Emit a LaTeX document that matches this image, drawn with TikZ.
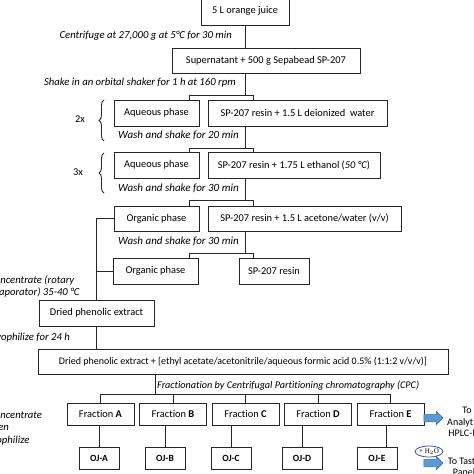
\documentclass[tikz,border=0pt]{standalone}
\usepackage{fontspec}
\setmainfont{Carlito}[Ligatures=NoCommon]
\newfontfamily\chemfont{Liberation Serif}
\usepackage{xcolor}
\usepackage{tikz}
\usetikzlibrary{shapes,arrows,positioning,calc,decorations.pathreplacing}
\definecolor{arrowblue}{RGB}{91,155,213}
\definecolor{arrowedge}{RGB}{65,113,156}
\definecolor{ellipseedge}{RGB}{47,85,151}
\tikzset{
    procbox/.style={
        rectangle,
        draw=black!85,
        line width=1pt,
        minimum height=25pt,
        inner sep=2pt,
        text centered,
        font=\fontsize{10.4}{12}\selectfont
    },
    fracbox/.style={
        procbox,
        minimum width=67pt,
        minimum height=22pt
    },
    ojbox/.style={
        procbox,
        minimum width=40pt,
        minimum height=22pt,
        font=\fontsize{9.5}{11}\selectfont\bfseries
    },
    note/.style={
        font=\fontsize{10.7}{12.5}\selectfont\itshape,
        inner sep=1pt
    },
    washnote/.style={
        note,
        anchor=west,
        font=\fontsize{11}{13}\selectfont\itshape
    },
    link/.style={
        draw=black!85,
        line width=0.9pt
    },
    fatarrow/.style={
        single arrow,
        draw=arrowedge,
        fill=arrowblue,
        line width=0.6pt,
        minimum height=19pt,
        minimum width=13pt,
        single arrow head extend=2.5pt,
        inner sep=3pt
    }
}

\begin{document}
\begin{tikzpicture}[x=1pt,y=-1pt,node distance=8pt]
\useasboundingbox (0,0) rectangle (474,474);
\clip (0,0) rectangle (474,474);

% juice and resin
\node[procbox, minimum width=88pt, minimum height=28pt] (juice) at (245,11) {5 L orange juice};
\node[procbox, minimum width=188pt] (super) at (266,60.5) {Supernatant + 500 g Sepabead SP-207};

% washing steps
\node[procbox, minimum width=85pt, minimum height=26pt] (aq1) at (156.5,113) {Aqueous phase};
\node[procbox, minimum width=179pt, minimum height=26pt, right=of aq1] (sp1) {SP-207 resin + 1.5 L deionized\ \ water};
\node[procbox, minimum width=85pt, minimum height=26pt] (aq2) at (156.5,165) {Aqueous phase};
\node[procbox, minimum width=172pt, minimum height=26pt, right=of aq2] (sp2) {SP-207 resin + 1.75 L ethanol (\textit{50 °C})};
\node[procbox, minimum width=85pt] (org1) at (156.5,218.5) {Organic phase};
\node[procbox, minimum width=193pt, right=of org1] (sp3) {SP-207 resin + 1.5 L acetone/water (v/v)};
\node[procbox, minimum width=85pt, minimum height=26pt] (org2) at (155.5,271) {Organic phase};
\node[procbox, minimum width=70pt, minimum height=26pt, right=40pt of org2] (resin) {SP-207 resin};

% extract
\node[procbox, minimum width=115pt, minimum height=26pt] (dried) at (96.5,313) {Dried phenolic extract};
\node[procbox, minimum width=410pt, font=\fontsize{10}{12}\selectfont] (mix) at (243,361.5) {Dried phenolic extract + [ethyl acetate/acetonitrile/aqueous formic acid 0.5\% (1:1:2 v/v/v)]};

% fractions
\node[fracbox] (frA) at (100.5,414) {Fraction \textbf{A}};
\node[fracbox, right=4.5pt of frA] (frB) {Fraction \textbf{B}};
\node[fracbox, right=4.5pt of frB] (frC) {Fraction \textbf{C}};
\node[fracbox, right=4.5pt of frC] (frD) {Fraction \textbf{D}};
\node[fracbox, right=4.5pt of frD] (frE) {Fraction \textbf{E}};
\node[ojbox] (ojA) at (99,458) {OJ-A};
\node[ojbox] (ojB) at (165,458) {OJ-B};
\node[ojbox] (ojC) at (231,458) {OJ-C};
\node[ojbox] (ojD) at (302,458) {OJ-D};
\node[ojbox] (ojE) at (377,458) {OJ-E};

% step labels
\node[note, anchor=east] (l1) at (233,36) {Centrifuge at 27,000 g at 5°C for 30 min};
\node[note, anchor=east] (l2) at (237,83) {Shake in an orbital shaker for 1 h at 160 rpm};
\node[washnote] (l3) at (117,135) {Wash and shake for 20 min};
\node[washnote] (l4) at (117,188) {Wash and shake for 30 min};
\node[washnote] (l5) at (117,241) {Wash and shake for 30 min};
\node[note, anchor=west, align=left] (l6) at (-12,286.5) {Concentrate (rotary\\evaporator) 35-40 °C};
\node[note, anchor=west] (l7) at (-9,338) {Lyophilize for 24 h};
\node[note, anchor=west, align=left] (l8) at (-12,428) {Concentrate\\then\\lyophilize};
\node[note, anchor=west, font=\fontsize{10.2}{12}\selectfont\itshape] (l9) at (156,386) {Fractionation by Centrifugal Partitioning chromatography (CPC)};
\node[font=\fontsize{10.4}{12}\selectfont] (rep2) at (80,119) {2x};
\node[font=\fontsize{10.4}{12}\selectfont] (rep3) at (78,172) {3x};
\draw[link, decorate, decoration={brace, amplitude=5pt}] (104,141) -- (104,100);
\draw[link, decorate, decoration={brace, amplitude=5pt}] (104,193) -- (104,153);

% trunk and splits
\coordinate (trunk) at (245,0);
\coordinate (brL) at (189,0);
\coordinate (brR) at (253,0);
\draw[link] (juice.south) -- (super.north -| juice.south);
\draw[link] (super.south -| trunk) -- ++(0,22) coordinate (b0);
\draw[link] (aq1.north -| brL) |- (b0) -| (sp1.north -| brR);
\draw[link] (sp1.south -| trunk) -- ++(0,22) coordinate (b1);
\draw[link] (aq2.north -| brL) |- (b1) -| (sp2.north -| brR);
\draw[link] (sp2.south -| trunk) -- ++(0,22) coordinate (b2);
\draw[link] (org1.north -| brL) |- (b2) -| (sp3.north -| brR);
\draw[link] (sp3.south -| trunk) -- ++(0,22) coordinate (b3);
\draw[link] (org2.north -| brL) |- (b3) -| (resin.north -| brR);

% organic phases to extract
\draw[link] (org1.west) -| (dried.north);
\draw[link] (org2.west) -- (org2.west -| dried.north);
\draw[link] (dried.south) -- (dried.south |- mix.north);

% fraction bus
\coordinate (bus) at (155,394);
\draw[link] (mix.south -| bus) -- (bus);
\draw[link] (frA.north) |- (frE.north |- bus) -- (frE.north);
\foreach \f in {frB,frC,frD}
    \draw[link] (\f.north) -- (\f.north |- bus);
\foreach \f/\o in {frA/ojA,frB/ojB,frC/ojC,frD/ojD}
    \draw[link] (\o.north) -- (\o.north |- \f.south);
\draw[link] ([xshift=9pt]ojE.north) -- ([xshift=9pt]ojE.north |- frE.south);

% destinations
\node[fatarrow] (toHPLC) at (431.5,418) {};
\node[fatarrow] (toPanel) at (431.5,463) {};
\node[ellipse, draw=ellipseedge, line width=0.8pt, inner sep=0pt, minimum width=24pt, minimum height=11pt, font=\chemfont\fontsize{7}{8}\selectfont] (water) at (429,451.5) {+ H$_2$O};
\node[align=center, font=\fontsize{10}{11.5}\selectfont] (hplc) at (467,422) {To\\Analytical\\HPLC-MS};
\node[align=center, font=\fontsize{10}{11.5}\selectfont] (panel) at (464,467) {To Taste\\Panel};
\end{tikzpicture}
\end{document}
